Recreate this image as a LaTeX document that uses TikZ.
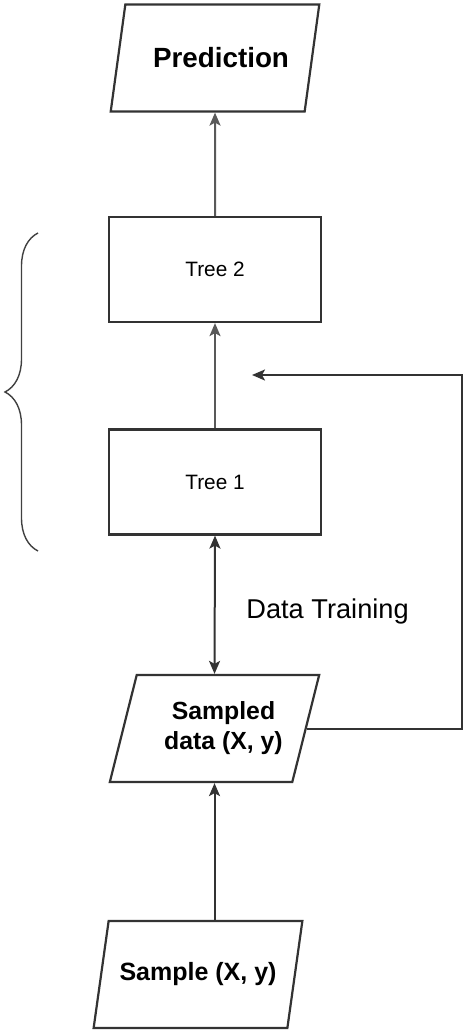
\documentclass[tikz,border=0pt]{standalone}
\usepackage{fontspec}
\setmainfont{Liberation Sans}
\usepackage{tikz}
\usetikzlibrary{arrows.meta,shapes.geometric,decorations.pathreplacing}

\begin{document}
\begin{tikzpicture}[
    x=0.5pt, y=-0.5pt,
    >={Stealth[length=6.5pt, width=5.5pt, inset=1.5pt]},
    line width=1pt,
    box/.style={draw=black!80, line width=1.1pt, minimum width=106pt, minimum height=52.5pt, font=\fontsize{10.4}{12}\selectfont},
    para/.style={draw=black!80, line width=1.1pt, trapezium, trapezium left angle=68.7, trapezium right angle=111.3,
                 trapezium stretches=true, minimum width=105pt, minimum height=53.5pt, align=center,
                 font=\fontsize{12.4}{15}\selectfont\bfseries},
    link/.style={->, draw=black!80},
  ]
    \useasboundingbox (0,0) rectangle (474,1032);

    % ---------- output ----------
    \node[para, font=\fontsize{13.9}{16}\selectfont\bfseries] (pred) at (215,58) {\hspace*{6pt}Prediction};

    % ---------- trees ----------
    \node[box] (tree2) at (215,269.5) {Tree 2};
    \node[box] (tree1) at (215,482)   {Tree 1};
    \draw[link, draw=black!65] (tree2.north) -- (pred.south);
    \draw[link, draw=black!65] (tree1.north) -- (tree2.south);

    % brace round the ensemble
    \coordinate (bl) at (38,551);
    \coordinate (bu) at (38,233);
    \draw[black!75, line width=0.7pt, decorate, decoration={brace, amplitude=16.5pt}] (bl) -- (bu);

    % ---------- data ----------
    \node[para] (sd) at (214.5,728.5) {\hspace*{9pt}Sampled\\\hspace*{9pt}data (X, y)};
    \node[para, font=\fontsize{12.5}{15}\selectfont\bfseries] (sample) at (198,974.5) {Sample (X, y)};

    \draw[link, <->] (tree1.south) -- node[right, xshift=12pt, yshift=-3.5pt, font=\fontsize{13.6}{16}\selectfont] (dt) {Data Training} (sd.north);
    \draw[link] (sd.south |- sample.north) -- (sd.south);

    % feedback to the next tree
    \coordinate (fbr) at (462,375);
    \coordinate (fb)  at (252,375);
    \draw[link] (sd.east) -| (fbr) -- (fb);
\end{tikzpicture}
\end{document}
